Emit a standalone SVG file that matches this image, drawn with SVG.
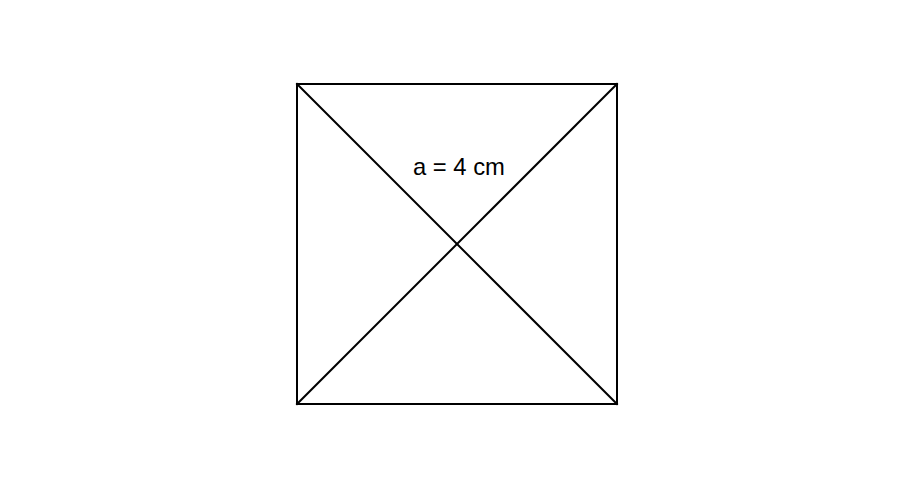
<svg xmlns="http://www.w3.org/2000/svg" width="917" height="502" viewBox="0 0 917 502">
<style>
.ln{stroke:#000;stroke-width:2;fill:none;stroke-linecap:square}
.lbl{font-family:"Liberation Sans",Arial,sans-serif;font-size:23.8px;fill:#000}
</style>
<rect width="917" height="502" fill="#fff"/>
<g id="square">
<rect class="ln" x="297" y="84" width="320" height="320"/>
</g>
<g id="connectors">
<line class="ln" x1="297" y1="84" x2="617" y2="404"/>
<line class="ln" x1="617" y1="84" x2="297" y2="404"/>
</g>
<g id="label">
<text class="lbl" x="413" y="175">a = 4 cm</text>
</g>
</svg>
